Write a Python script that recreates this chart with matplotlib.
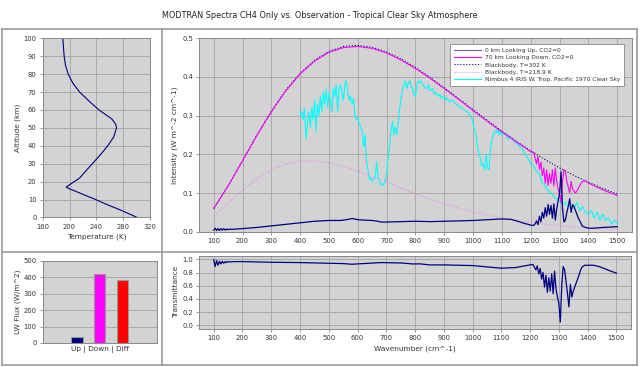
import matplotlib
matplotlib.use("Agg")
import matplotlib.pyplot as plt
from matplotlib.lines import Line2D
import numpy as np

# --- temperature profile (tropical) ---
alt_km = [0, 2, 4, 6, 8, 10, 12, 14, 16, 17, 18, 20, 22, 25, 30, 35, 40, 45, 50, 52, 55, 60, 65, 70, 75, 80, 85, 90, 95, 100]
temp_k = [301, 289, 277, 264, 251, 239, 226, 213, 200, 195, 199, 207, 215, 222, 234, 246, 257, 266, 270, 269, 263, 244, 229, 215, 205, 198, 194, 192, 191, 190]

# --- LW flux bars ---
flux_vals = [35, 420, 385]
flux_colors = ["navy", "magenta", "red"]

# --- blackbody curves (read every 50 cm^-1) ---
bb_nu = [100, 150, 200, 250, 300, 350, 400, 450, 500, 550, 600, 650, 700, 750, 800,
         850, 900, 950, 1000, 1050, 1100, 1150, 1200, 1250, 1300, 1350, 1400, 1450, 1500]
bb_302 = [0.0601, 0.1186, 0.1842, 0.2502, 0.3118, 0.3657, 0.4100, 0.4436, 0.4664, 0.4789,
          0.4819, 0.4767, 0.4646, 0.4468, 0.4245, 0.3994, 0.3722, 0.3440, 0.3155, 0.2873,
          0.2599, 0.2337, 0.2091, 0.1861, 0.1649, 0.1455, 0.1278, 0.1119, 0.0975]
bb_219 = [0.0395, 0.0737, 0.1077, 0.1373, 0.1601, 0.1751, 0.1825, 0.1830, 0.1780, 0.1688,
          0.1565, 0.1424, 0.1276, 0.1126, 0.0982, 0.0847, 0.0723, 0.0612, 0.0513, 0.0428,
          0.0354, 0.0291, 0.0238, 0.0194, 0.0157, 0.0126, 0.0102, 0.0081, 0.0065]

# --- CH4 band region, 1210-1380 every 5 cm^-1 ---
band_nu = [1210, 1215, 1220, 1225, 1230, 1235, 1240, 1245, 1250, 1255, 1260, 1265, 1270, 1275,
           1280, 1285, 1290, 1295, 1300, 1305, 1310, 1315, 1320, 1325, 1330, 1335, 1340, 1345,
           1350, 1355, 1360, 1365, 1370, 1375, 1380]
band_tr = [0.92, 0.88, 0.84, 0.90, 0.78, 0.86, 0.70, 0.80, 0.58, 0.76, 0.50, 0.72, 0.52, 0.78,
           0.48, 0.82, 0.55, 0.43, 0.33, 0.05, 0.60, 0.89, 0.84, 0.66, 0.48, 0.28, 0.62, 0.43,
           0.52, 0.58, 0.64, 0.70, 0.76, 0.83, 0.88]
band_up = [0.016, 0.020, 0.028, 0.018, 0.040, 0.025, 0.050, 0.035, 0.062, 0.040, 0.070, 0.045,
           0.068, 0.035, 0.072, 0.030, 0.060, 0.080, 0.100, 0.155, 0.060, 0.025, 0.030, 0.050,
           0.065, 0.085, 0.050, 0.070, 0.065, 0.055, 0.045, 0.035, 0.028, 0.020, 0.014]
band_down = [0.205, 0.190, 0.175, 0.195, 0.160, 0.180, 0.145, 0.165, 0.125, 0.160, 0.120, 0.150,
             0.125, 0.160, 0.118, 0.165, 0.130, 0.110, 0.095, 0.075, 0.130, 0.160, 0.155, 0.130,
             0.115, 0.100, 0.130, 0.110, 0.105, 0.100, 0.105, 0.112, 0.120, 0.126, 0.130]

# --- 0 km looking up ---
up_nu = [100, 105, 110, 115, 120, 125, 130, 135, 140, 145, 150, 155, 160, 200, 250, 300, 350,
         400, 450, 500, 540, 560, 580, 600, 620, 650, 670, 680, 700, 750, 800, 850, 900, 950,
         1000, 1050, 1100, 1130, 1150, 1180, 1200] + band_nu + [1390, 1400, 1420, 1450, 1500]
up_vals = [0.004, 0.009, 0.003, 0.008, 0.003, 0.008, 0.004, 0.008, 0.004, 0.007, 0.005, 0.007,
           0.006, 0.008, 0.011, 0.015, 0.019, 0.023, 0.027, 0.029, 0.029, 0.031, 0.034, 0.031,
           0.030, 0.029, 0.027, 0.025, 0.025, 0.026, 0.027, 0.026, 0.027, 0.028, 0.029, 0.031,
           0.033, 0.032, 0.028, 0.021, 0.017] + band_up + [0.011, 0.009, 0.009, 0.011, 0.013]

# --- 70 km looking down ---
down_nu = [100, 150, 200, 250, 300, 350, 400, 450, 500, 550, 600, 650, 700, 750, 800, 850,
           900, 950, 1000, 1050, 1100, 1150, 1200] + band_nu + [1390, 1400, 1450, 1500]
down_vals = [0.060, 0.118, 0.183, 0.249, 0.310, 0.364, 0.408, 0.441, 0.464, 0.476, 0.479,
             0.474, 0.462, 0.444, 0.422, 0.397, 0.370, 0.342, 0.313, 0.285, 0.258, 0.232,
             0.207] + band_down + [0.131, 0.126, 0.108, 0.0935]

# --- Nimbus 4 IRIS observation ---
obs_nu = [400, 405, 410, 415, 420, 425, 430, 435, 440, 445, 450, 455, 460, 465, 470, 475, 480,
          485, 490, 495, 500, 505, 510, 515, 520, 525, 530, 535, 540, 545, 550, 555, 560, 565,
          570, 575, 580, 585, 590, 595, 600, 605, 610, 615, 620, 625, 630, 635, 640, 645, 650,
          655, 660, 665, 670, 675, 680, 685, 690, 695, 700, 705, 710, 715, 720, 725, 730, 735,
          740, 745, 750, 755, 760, 765, 770, 775, 780, 785, 790, 795, 800, 805, 810, 815, 820,
          825, 830, 840, 845, 850, 860, 865, 870, 880, 885, 890, 900, 905, 910, 920, 930, 940,
          950, 960, 970, 980, 990, 995, 1000, 1005, 1010, 1015, 1020, 1025, 1030, 1035, 1040,
          1045, 1050, 1055, 1060, 1065, 1070, 1075, 1080, 1085, 1090, 1095, 1100, 1110, 1120,
          1130, 1140, 1150, 1160, 1170, 1180, 1190, 1200, 1210, 1220, 1230, 1240, 1250, 1260,
          1270, 1280, 1290, 1300, 1310, 1320, 1330, 1340, 1350, 1360, 1370, 1380, 1390, 1400,
          1410, 1420, 1430, 1440, 1450, 1460, 1470, 1480, 1490, 1500]
obs_vals = [0.30, 0.31, 0.29, 0.32, 0.24, 0.28, 0.31, 0.27, 0.32, 0.29, 0.34, 0.26, 0.33, 0.30,
            0.35, 0.31, 0.36, 0.33, 0.37, 0.32, 0.36, 0.34, 0.31, 0.37, 0.35, 0.38, 0.31, 0.37,
            0.38, 0.36, 0.34, 0.38, 0.39, 0.36, 0.34, 0.35, 0.33, 0.345, 0.30, 0.29, 0.295, 0.28,
            0.27, 0.26, 0.22, 0.25, 0.18, 0.16, 0.135, 0.14, 0.13, 0.135, 0.14, 0.18, 0.14, 0.13,
            0.12, 0.125, 0.12, 0.13, 0.15, 0.19, 0.22, 0.26, 0.285, 0.25, 0.27, 0.25, 0.28, 0.32,
            0.34, 0.37, 0.38, 0.39, 0.37, 0.385, 0.39, 0.375, 0.37, 0.355, 0.35, 0.38, 0.39,
            0.385, 0.39, 0.38, 0.375, 0.37, 0.38, 0.365, 0.37, 0.355, 0.36, 0.35, 0.355, 0.345,
            0.35, 0.34, 0.345, 0.335, 0.34, 0.33, 0.325, 0.32, 0.315, 0.31, 0.30, 0.295, 0.28,
            0.26, 0.25, 0.22, 0.20, 0.19, 0.17, 0.175, 0.16, 0.20, 0.165, 0.16, 0.21, 0.24, 0.25,
            0.26, 0.255, 0.265, 0.25, 0.26, 0.25, 0.255, 0.24, 0.245, 0.235, 0.23, 0.22, 0.215,
            0.20, 0.19, 0.175, 0.17, 0.155, 0.15, 0.125, 0.12, 0.105, 0.10, 0.09, 0.085, 0.08,
            0.07, 0.075, 0.065, 0.07, 0.06, 0.075, 0.055, 0.065, 0.05, 0.045, 0.055, 0.035, 0.05,
            0.03, 0.045, 0.03, 0.035, 0.02, 0.03, 0.02]

# --- transmittance ---
tr_nu = [100, 105, 110, 115, 120, 125, 130, 135, 140, 145, 150, 160, 170, 200, 300, 400, 500,
         550, 580, 620, 680, 750, 790, 820, 850, 900, 1000, 1050, 1100, 1150, 1180, 1200] + band_nu + \
        [1390, 1420, 1440, 1475, 1500]
tr_vals = [0.99, 0.89, 0.98, 0.91, 0.97, 0.93, 0.97, 0.94, 0.965, 0.95, 0.965, 0.96, 0.965,
           0.965, 0.955, 0.95, 0.94, 0.935, 0.925, 0.935, 0.95, 0.945, 0.93, 0.93, 0.915, 0.915,
           0.905, 0.885, 0.865, 0.875, 0.90, 0.915] + band_tr + [0.91, 0.91, 0.89, 0.83, 0.79]

BG = "#d3d3d3"
GRID = "#a9a9a9"
TXT = "#333333"

plt.rcParams["font.family"] = "DejaVu Sans"
plt.rcParams["axes.edgecolor"] = "#888888"
plt.rcParams["xtick.color"] = "#888888"
plt.rcParams["ytick.color"] = "#888888"
plt.rcParams["xtick.labelcolor"] = TXT
plt.rcParams["ytick.labelcolor"] = TXT
plt.rcParams["xtick.major.size"] = 2.5
plt.rcParams["ytick.major.size"] = 2.5
plt.rcParams["xtick.major.pad"] = 2
plt.rcParams["ytick.major.pad"] = 2

fig = plt.figure(figsize=(6.4, 3.67), dpi=100)

def style(ax, fs=4.9):
    ax.set_facecolor(BG)
    ax.grid(True, color=GRID, lw=0.7)
    ax.set_axisbelow(True)
    ax.tick_params(labelsize=fs, width=0.6)
    for s in ax.spines.values():
        s.set_linewidth(0.7)

# frame lines around the panels
W, H = 640.0, 367.0
def px_line(x0, y0, x1, y1):
    fig.add_artist(Line2D([x0 / W, x1 / W], [1 - y0 / H, 1 - y1 / H], color="#9a9a9a", lw=1.2))
px_line(2, 29, 637, 29)
px_line(2, 365, 637, 365)
px_line(2, 29, 2, 365)
px_line(637, 29, 637, 365)
px_line(162, 29, 162, 365)
px_line(2, 252, 637, 252)

fig.text(0.5, 0.958, "MODTRAN Spectra CH4 Only vs. Observation - Tropical Clear Sky Atmosphere",
         ha="center", va="center", fontsize=5.9, color="#222222")

# temperature profile
ax_t = fig.add_axes([0.0667, 0.4074, 0.1677, 0.4882])
style(ax_t)
ax_t.plot(temp_k, alt_km, color="navy", lw=0.8)
ax_t.set_xlim(160, 320)
ax_t.set_ylim(0, 100)
ax_t.set_xticks([160, 200, 240, 280, 320])
ax_t.set_yticks(range(0, 101, 10))
ax_t.set_xlabel("Temperature (K)", fontsize=5.3, color=TXT, labelpad=3)
ax_t.set_ylabel("Altitude (km)", fontsize=5.3, color=TXT, labelpad=2)

# flux bars
ax_b = fig.add_axes([0.0667, 0.0654, 0.178, 0.2242])
style(ax_b)
ax_b.bar(range(len(flux_vals)), flux_vals, width=0.5, color=flux_colors, edgecolor="#8fa08f", lw=0.8)
ax_b.set_xlim(-1.5, 3.5)
ax_b.set_ylim(0, 500)
ax_b.set_yticks(range(0, 501, 100))
ax_b.set_xticks([1])
ax_b.set_xticklabels(["Up | Down | Diff"], fontsize=5.3)
ax_b.tick_params(axis="x", length=0)
ax_b.xaxis.grid(False)
ax_b.set_ylabel("LW Flux (W/m^2)", fontsize=5.3, color=TXT, labelpad=2)

# spectra
ax_s = fig.add_axes([0.3114, 0.3687, 0.6756, 0.5269])
style(ax_s)
ax_s.plot(obs_nu, obs_vals, color="cyan", lw=0.8, zorder=2)
ax_s.plot(bb_nu, bb_219, color="violet", lw=0.8, ls=":", zorder=2)
ax_s.plot(bb_nu, bb_302, color="navy", lw=0.8, ls=":", zorder=2)
ax_s.plot(down_nu, down_vals, color="magenta", lw=0.8, zorder=3)
ax_s.plot(up_nu, up_vals, color="navy", lw=0.9, zorder=4)
ax_s.set_xlim(50, 1550)
ax_s.set_ylim(0, 0.5)
ax_s.set_xticks(range(100, 1501, 100))
ax_s.set_yticks(np.arange(0, 0.51, 0.1))
ax_s.set_ylabel("Intensity (W m^-2 cm^-1)", fontsize=5.3, color=TXT, labelpad=3)
handles = [
    Line2D([], [], color="navy", lw=0.8, alpha=0.6),
    Line2D([], [], color="magenta", lw=0.8),
    Line2D([], [], color="navy", lw=0.8, ls=":"),
    Line2D([], [], color="violet", lw=0.8, ls=":"),
    Line2D([], [], color="cyan", lw=0.8),
]
labels = ["0 km Looking Up, CO2=0", "70 km Looking Down, CO2=0", "Blackbody, T=302 K",
          "Blackbody, T=218.9 K", "Nimbus 4 IRIS W. Trop. Pacific 1970 Clear Sky"]
leg = ax_s.legend(handles, labels, loc="upper right", fontsize=4.3, frameon=True, fancybox=False,
                  edgecolor="#888888", framealpha=1, borderpad=0.6, labelspacing=0.35,
                  handlelength=4.5, handletextpad=0.8, bbox_to_anchor=(0.99, 0.985))
leg.get_frame().set_linewidth(0.6)
for t in leg.get_texts():
    t.set_color(TXT)

# transmittance
ax_r = fig.add_axes([0.3114, 0.1044, 0.6742, 0.1981])
style(ax_r)
ax_r.plot(tr_nu, tr_vals, color="navy", lw=0.9)
ax_r.set_xlim(50, 1550)
ax_r.set_ylim(-0.05, 1.05)
ax_r.set_xticks(range(100, 1501, 100))
ax_r.set_yticks(np.arange(0, 1.01, 0.2))
ax_r.yaxis.set_major_formatter(matplotlib.ticker.FormatStrFormatter("%.1f"))
ax_r.set_xlabel("Wavenumber (cm^-1)", fontsize=5.3, color=TXT, labelpad=3)
ax_r.set_ylabel("Transmittance", fontsize=5.3, color=TXT, labelpad=2)

fig.savefig("out.png", dpi=100)
